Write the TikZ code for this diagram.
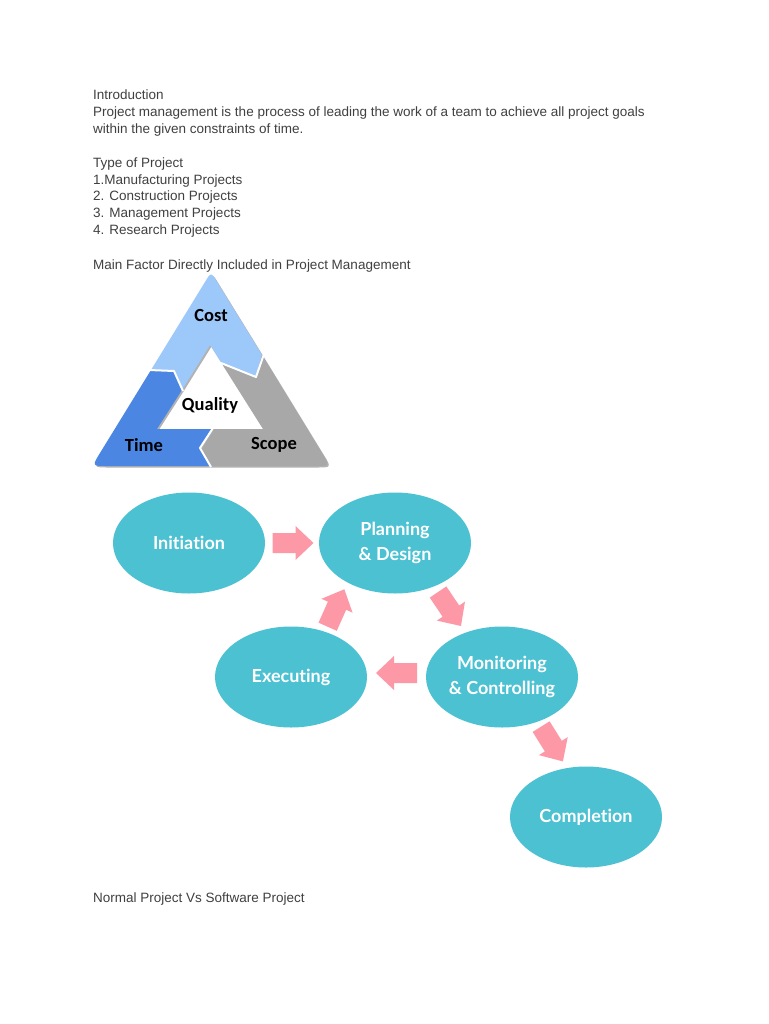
\documentclass[tikz,border=0pt]{standalone}
\usepackage{fontspec}
\setmainfont{Liberation Sans}
\newfontfamily\calfont{Carlito}
\newfontfamily\latofont[Ligatures={NoCommon,NoRare,NoDiscretionary}]{Lato}
\usetikzlibrary{calc,shapes.geometric}
\definecolor{bodytext}{HTML}{404040}
\definecolor{phasecol}{HTML}{4CC1D2}
\definecolor{pinkarrow}{HTML}{FD99A7}
\definecolor{costblue}{HTML}{9DC8FA}
\definecolor{timeblue}{HTML}{4A86E2}
\definecolor{scopegray}{HTML}{A8A8A8}
\begin{document}
\begin{tikzpicture}[x=1pt,y=-1pt,
  bodyline/.style={anchor=base west, inner sep=0pt, text=bodytext, font=\fontsize{13.5}{16}\selectfont},
  phase/.style={ellipse, fill=phasecol, minimum width=152pt, minimum height=101pt, inner sep=0pt, text=white, font=\latofont\bfseries\fontsize{18}{25}\selectfont, align=center},
  tri/.style={font=\calfont\bfseries\fontsize{18.5}{20}\selectfont, text=black, inner sep=0pt},
  piece/.style={preaction={fill=black!30, transform canvas={shift={(1.5,1.5)}}}},
  gapline/.style={draw=white, line width=2pt, line join=round},
  blockarrow/.pic={\fill[pinkarrow] (-20.5,-10) -- (2.5,-10) -- (2.5,-17) -- (20.5,0) -- (2.5,17) -- (2.5,10) -- (-20.5,10) -- cycle;}
]
\fill[white] (0,0) rectangle (768,1024);
\useasboundingbox (0,0) rectangle (768,1024);

% body text
\node[bodyline] (intro) at (93,100) {Introduction};
\node[bodyline] (def1) at (93,117) {Project management is the process of leading the work of a team to achieve all project goals};
\node[bodyline] (def2) at (93,134) {within the given constraints of time.};
\node[bodyline] (type) at (93,168) {Type of Project};
\node[bodyline] (t1) at (93,185) {1.Manufacturing Projects};
\node[bodyline] (t2) at (93,201) {2. Construction Projects};
\node[bodyline] (t3) at (93,218) {3. Management Projects};
\node[bodyline] (t4) at (93,235) {4. Research Projects};
\node[bodyline] (main) at (93,269) {Main Factor Directly Included in Project Management};
\node[bodyline] (normal) at (93,902) {Normal Project Vs Software Project};

% triangle
\fill[costblue, piece] (151,370) -- (205,282) .. controls (211,272) .. (217,282) -- (262,355) -- (256,377) -- (222,364) -- (210,345) -- (182,390) -- (174,371) -- cycle;
\fill[scopegray, piece] (262,355) -- (322,453) .. controls (330,466) .. (315,466) -- (210,466) -- (200,448) -- (212,429) -- (263,429) -- (222,364) -- (256,377) -- cycle;
\fill[timeblue, piece] (210,466) -- (107,466) .. controls (92,466) .. (100,453) -- (151,370) -- (174,371) -- (182,390) -- (157,429) -- (212,429) -- (200,448) -- cycle;
\draw[gapline] (149,370) -- (174,371) -- (183,391);
\draw[gapline] (264,354) -- (256,377) -- (221,363);
\draw[gapline] (213,428) -- (200,448) -- (211,467);

\node[tri] (cost) at (211,316) {Cost};
\node[tri] (quality) at (210,405) {Quality};
\node[tri] (time) at (144,445) {Time};
\node[tri] (scope) at (274,445) {Scope};

% process cycle
\node[phase] (init) at (189,543) {Initiation};
\node[phase] (plan) at (395,543) {Planning\\\& Design};
\node[phase] (mon) at (502,677) {Monitoring\\\& Controlling};
\node[phase] (exec) at (291,677) {Executing};
\node[phase] (comp) at (586,817) {Completion};

\pic[rotate=0] (a1) at ($(init)!0.5!(plan)+(1,0)$) {blockarrow};
\pic[rotate=-56] (a2) at ($(plan)!0.5!(mon)+(1,-1)$) {blockarrow};
\pic[rotate=180] (a3) at ($(mon)!0.5!(exec)+(0,-4)$) {blockarrow};
\pic[rotate=66] (a4) at ($(exec)!0.5!(plan)+(-7,-2)$) {blockarrow};
\pic[rotate=-58] (a5) at ($(mon)!0.5!(comp)+(8,-3)$) {blockarrow};
\end{tikzpicture}
\end{document}
